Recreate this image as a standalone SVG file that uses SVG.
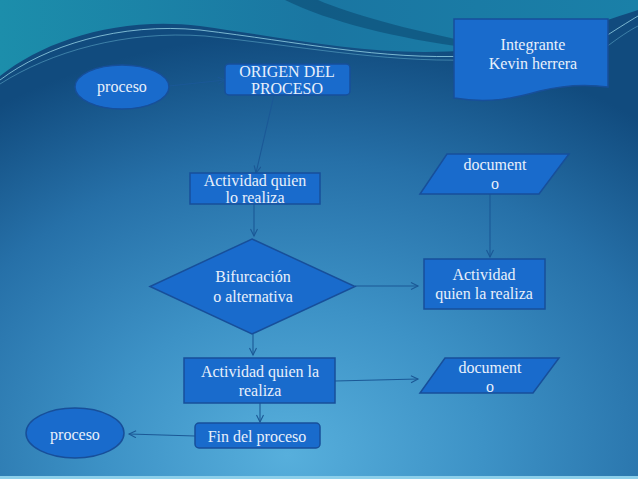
<svg xmlns="http://www.w3.org/2000/svg" width="638" height="479" viewBox="0 0 638 479">
<defs>
<radialGradient id="bg" cx="0.48" cy="0.92" r="0.85" fx="0.45" fy="0.95">
<stop offset="0" stop-color="#57afdc"/>
<stop offset="0.35" stop-color="#3d92c6"/>
<stop offset="0.7" stop-color="#2670a8"/>
<stop offset="1" stop-color="#114b7e"/>
</radialGradient>
<linearGradient id="teal" x1="0" y1="0" x2="1" y2="0">
<stop offset="0" stop-color="#1c8eab"/>
<stop offset="0.5" stop-color="#1a76a2"/>
<stop offset="1" stop-color="#1a80a8"/>
</linearGradient>
<marker id="arr" markerWidth="10" markerHeight="10" refX="8" refY="4" orient="auto" markerUnits="userSpaceOnUse">
<path d="M1,0.5 L8,4 L1,7.5" fill="none" stroke="#1b5896" stroke-width="1.1"/>
</marker>
<style>
.node{fill:#196bcc;stroke:#174f9a;stroke-width:1.5}
.t{font-family:"Liberation Serif","Times New Roman",serif;font-size:16px;fill:#e8f0fb;text-anchor:middle}
.c{fill:none;stroke:#1b5896;stroke-width:1.1;marker-end:url(#arr)}
</style>
</defs>
<rect width="638" height="479" fill="url(#bg)"/>
<path d="M0,0 H638 V10 C600,22 555,40 470,50 C380,58 300,40 200,26 C120,16 45,40 0,76 Z" fill="url(#teal)"/>
<path d="M285,0 C330,22 395,38 470,48 L470,42 C410,30 350,14 318,0 Z" fill="#0f557e" opacity="0.8"/>
<path d="M0,80 C45,46 120,22 200,30 C300,42 380,60 470,56" fill="none" stroke="#a6e4f2" stroke-width="1" opacity="0.7"/>
<path d="M0,84 C50,52 125,30 205,36 C300,46 380,62 470,60" fill="none" stroke="#7fcfe6" stroke-width="0.8" opacity="0.5"/>
<path d="M600,40 C615,30 628,22 638,16" fill="none" stroke="#a6e4f2" stroke-width="1" opacity="0.7"/>
<path d="M605,48 C618,38 630,30 638,26" fill="none" stroke="#7fcfe6" stroke-width="0.8" opacity="0.5"/>
<rect x="0" y="476" width="638" height="3" fill="#8ccfea"/>

<g id="connectors">
<line class="c" x1="169" y1="86" x2="225" y2="80"/>
<line class="c" x1="274" y1="95" x2="256" y2="173"/>
<line class="c" x1="254" y1="204" x2="254" y2="236"/>
<line class="c" x1="355" y1="286" x2="418" y2="286"/>
<line class="c" x1="490" y1="194" x2="490" y2="257"/>
<line class="c" x1="253" y1="334" x2="253" y2="355"/>
<line class="c" x1="335" y1="381" x2="418" y2="379"/>
<line class="c" x1="260" y1="403" x2="260" y2="422"/>
<line class="c" x1="195" y1="436" x2="129" y2="434"/>
</g>

<g id="proceso1">
<ellipse class="node" cx="122" cy="87" rx="47" ry="22"/>
<text class="t" x="122" y="92">proceso</text>
</g>
<g id="origen">
<rect class="node" x="225" y="64" width="125" height="31" rx="4"/>
<text class="t" x="287" y="77">ORIGEN DEL</text>
<text class="t" x="287" y="94">PROCESO</text>
</g>
<g id="integrante">
<path class="node" d="M454,19 H608 V87 C585,84 560,86 540,91 C515,98 490,104 454,98 Z"/>
<text class="t" x="533" y="50">Integrante</text>
<text class="t" x="533" y="69">Kevin herrera</text>
</g>
<g id="documento1">
<polygon class="node" points="447,154 569,154 539,194 420,194"/>
<text class="t" x="495" y="170">document</text>
<text class="t" x="495" y="189">o</text>
</g>
<g id="actividad1">
<rect class="node" x="190" y="173" width="130" height="31"/>
<text class="t" x="255" y="186">Actividad quien</text>
<text class="t" x="255" y="203">lo realiza</text>
</g>
<g id="bifurcacion">
<polygon class="node" points="252,239 355,286.5 252,334 150,286.5"/>
<text class="t" x="253" y="282">Bifurcación</text>
<text class="t" x="253" y="302">o alternativa</text>
</g>
<g id="actividad2">
<rect class="node" x="424" y="259" width="121" height="50"/>
<text class="t" x="484" y="280">Actividad</text>
<text class="t" x="484" y="299">quien la realiza</text>
</g>
<g id="actividad3">
<rect class="node" x="184" y="358" width="151" height="45"/>
<text class="t" x="260" y="377">Actividad quien la</text>
<text class="t" x="260" y="396">realiza</text>
</g>
<g id="documento2">
<polygon class="node" points="445,358 559,358 533,393 420,393"/>
<text class="t" x="490" y="373">document</text>
<text class="t" x="490" y="392">o</text>
</g>
<g id="fin">
<rect class="node" x="195" y="423" width="125" height="25" rx="4"/>
<text class="t" x="257" y="442">Fin del proceso</text>
</g>
<g id="proceso2">
<ellipse class="node" cx="75" cy="433" rx="49" ry="25"/>
<text class="t" x="75" y="440">proceso</text>
</g>
</svg>
